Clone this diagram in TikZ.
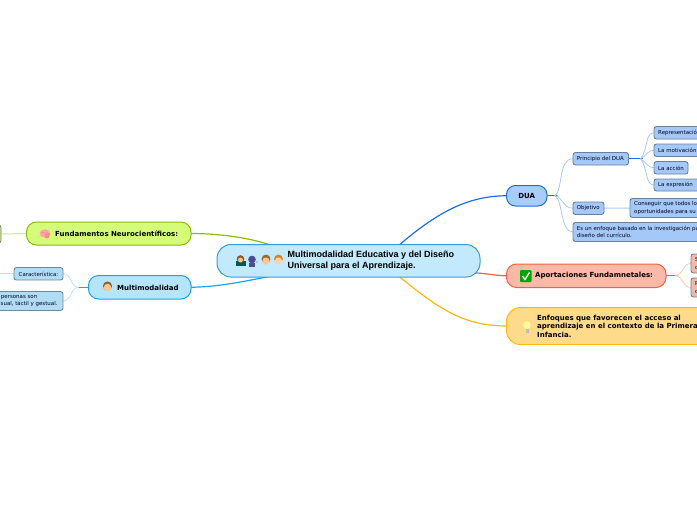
\documentclass[tikz,border=0pt]{standalone}
\usepackage{fontspec}
\setmainfont{DejaVu Sans}
\newfontfamily\titlefont{Liberation Sans}
\usetikzlibrary{backgrounds,calc}
\definecolor{cfill}{HTML}{C2E9FC}\definecolor{cline}{HTML}{3A9AD9}
\definecolor{dfill}{HTML}{A8CCFB}\definecolor{dline}{HTML}{1F6FDB}
\definecolor{dsub}{HTML}{A4C8F8}\definecolor{dsubl}{HTML}{6C7F99}\definecolor{dlink}{HTML}{A9C9F5}
\definecolor{afill}{HTML}{FBB9A8}\definecolor{aline}{HTML}{F0633D}\definecolor{asub}{HTML}{F4B8A8}\definecolor{asubl}{HTML}{8A7A74}\definecolor{alink}{HTML}{F9C4B6}
\definecolor{efill}{HTML}{FEDB8B}\definecolor{eline}{HTML}{FDB913}
\definecolor{ffill}{HTML}{D4FC79}\definecolor{fline}{HTML}{8BBB10}\definecolor{fsub}{HTML}{C9E29A}\definecolor{fsubl}{HTML}{7F8F6A}\definecolor{flink}{HTML}{CFE6A0}
\definecolor{mfill}{HTML}{B5E5FC}\definecolor{mline}{HTML}{1BA3E8}\definecolor{msub}{HTML}{B0DDF5}\definecolor{msubl}{HTML}{6E8A99}\definecolor{mlink}{HTML}{B5E3F9}
\tikzset{
  mapbox/.style={draw,rectangle,inner sep=0pt,line width=1pt,outer sep=0pt},
  subbox/.style={mapbox,rounded corners=2.5pt,line width=.9pt},
  mainlbl/.style={font=\fontsize{7}{8.4}\selectfont\bfseries,anchor=west,inner sep=0pt,align=left,text=black},
  sublbl/.style={font=\fontsize{5.45}{7.4}\selectfont,anchor=west,inner sep=0pt,align=left,text=black!90!blue},
  toplink/.style={line width=1.2pt,line cap=round},
  sublink/.style={line width=.8pt,line cap=round},
}
\newcommand{\boxat}[7]{% name, x1,y1,x2,y2, radius, style
  \node[#7,rounded corners=#6pt,minimum width=#4pt-#2pt,minimum height=#5pt-#3pt] (#1) at ({(#2+#4)/2},{(#3+#5)/2}) {};}
\begin{document}
\begin{tikzpicture}[x=1pt,y=-1pt]
\useasboundingbox (0,0) rectangle (697,520);
\clip (0,0) rectangle (697,520);
% nodes
\boxat{central}{217}{244.5}{480}{277}{14}{mapbox,fill=cfill,draw=cline}
\boxat{dua}{506.5}{185.5}{547}{206}{9}{mapbox,fill=dfill,draw=dline}
\boxat{princ}{573}{152.5}{628.5}{165}{2.5}{subbox,fill=dsub,draw=dsubl}
\boxat{repr}{654}{126.5}{720}{139}{2.5}{subbox,fill=dsub,draw=dsubl}
\boxat{moti}{654}{144}{720}{156.5}{2.5}{subbox,fill=dsub,draw=dsubl}
\boxat{acci}{654}{161.5}{688}{174}{2.5}{subbox,fill=dsub,draw=dsubl}
\boxat{expr}{654}{179}{720}{191}{2.5}{subbox,fill=dsub,draw=dsubl}
\boxat{obje}{573}{202}{604}{214.5}{2.5}{subbox,fill=dsub,draw=dsubl}
\boxat{cons}{630}{198.5}{760}{217.5}{2.5}{subbox,fill=dsub,draw=dsubl}
\boxat{enfo}{573}{222.5}{760}{241.5}{2.5}{subbox,fill=dsub,draw=dsubl}
\boxat{apor}{506.5}{264}{666}{287.5}{10}{mapbox,fill=afill,draw=aline}
\boxat{apa}{691}{254}{760}{273}{2.5}{subbox,fill=asub,draw=asubl}
\boxat{apb}{691}{278}{760}{297}{2.5}{subbox,fill=asub,draw=asubl}
\boxat{enfq}{506.5}{307.5}{760}{344.5}{14}{mapbox,fill=efill,draw=eline}
\boxat{fund}{26.5}{222}{191}{245}{10}{mapbox,fill=ffill,draw=fline}
\boxat{fsub}{-40}{225}{1}{243}{2.5}{subbox,fill=fsub,draw=fsubl}
\boxat{mult}{88.5}{275.5}{191}{299}{10}{mapbox,fill=mfill,draw=mline}
\boxat{cara}{14}{267.5}{63}{280}{2.5}{subbox,fill=msub,draw=msubl}
\boxat{pers}{-40}{291.5}{63}{310.5}{2.5}{subbox,fill=msub,draw=msubl}
\coordinate (caraout) at (-5,273.5);
% labels
\node[mainlbl,font=\fontsize{9}{11.3}\selectfont\titlefont\bfseries] (tcentral) at (287.5,260.5) {Multimodalidad Educativa y del Diseño\\Universal para el Aprendizaje.};
\node[mainlbl,anchor=center] (tdua) at (526.7,195.7) {DUA};
\node[sublbl] (tprinc) at (576.7,158.9) {Principio del DUA};
\node[sublbl] (trepr) at (658,132.9) {Representación};
\node[sublbl] (tmoti) at (658,150.4) {La motivación};
\node[sublbl] (tacci) at (658,168) {La acción};
\node[sublbl] (texpr) at (658,185.2) {La expresión};
\node[sublbl] (tobje) at (576.7,208.4) {Objetivo};
\node[sublbl] (tcons) at (634,208) {Conseguir que todos los\\oportunidades para su};
\node[sublbl] (tenfo) at (576.7,232) {Es un enfoque basado en la investigación para el\\diseño del currículo.};
\node[mainlbl] (tapor) at (535,275.7) {Aportaciones Fundamnetales:};
\node[sublbl] (tapa) at (695,263.5) {Se\\de};
\node[sublbl] (tapb) at (695,287.5) {Pl\\de};
\node[mainlbl] (tenfq) at (537,326) {Enfoques que favorecen el acceso al\\aprendizaje en el contexto de la Primera\\Infancia.};
\node[mainlbl] (tfund) at (55,233.7) {Fundamentos Neurocientíficos:};
\node[mainlbl] (tmult) at (117,287.6) {Multimodalidad};
\node[sublbl] (tcara) at (18.5,274) {Característica:};
\node[sublbl,anchor=east] (tpers) at (57.7,301.2) {\hspace*{5pt}personas son\\visual, táctil y gestual.};
% icons
% check
\path[fill=green!65!black,rounded corners=1pt] (520,270) rectangle (531.5,282);
\draw[white,line width=1.3pt] (522.5,276) -- (525,279.5) -- (529.5,272.5);
% bulb
\fill[yellow!40!white] (527,325) circle (3.8);
\fill[black!25] (525.5,329) rectangle (528.5,332.5);
% brain
\fill[red!35!white] (45,233.5) ellipse (5.5 and 4.2);
\fill[red!45!white] (47,236) circle (2.4);
\draw[red!60!white,line width=.3pt] (42,232) .. controls (44,235) and (47,231) .. (49,234);
% boys
\fill[brown!75!black] (107.5,286) circle (4.6);
\fill[orange!45!white] (107.5,287.6) circle (3.8);
\fill[brown!80!black] (266,259) circle (4.4);
\fill[orange!45!white] (266,261) circle (3.6);
\fill[brown!50!orange] (278.5,259) circle (4.4);
\fill[orange!35!white] (278.5,261) circle (3.6);
% teacher and speaker
\fill[teal!70!black] (235.5,261) rectangle (246,266);
\fill[brown!70!black] (240.5,259) circle (3.8);
\fill[orange!45!white] (240.5,260) circle (2.4);
\fill[black!60!blue!70] (252,259.5) circle (3.8);
\fill[black!60!blue!70] (248.5,266.5) rectangle (255,263);
\fill[black!25] (257,262) circle (1.4);
% connectors
\begin{scope}[on background layer]
\draw[dline,toplink] ([shift={(51,-16)}]central.center) .. controls (440,210) and (470,196) .. (dua.west);
\draw[aline,toplink] ([shift={(-8,12)}]central.east) .. controls (485,273) and (495,275.7) .. (apor.west);
\draw[eline,toplink] ([shift={(51,16)}]central.center) .. controls (440,310) and (465,326) .. (enfq.west);
\draw[fline,toplink] ([shift={(-79,-16)}]central.center) .. controls (250,238) and (220,233.5) .. (fund.east);
\draw[mline,toplink] ([shift={(-80,16)}]central.center) .. controls (250,280) and (220,287) .. (mult.east);
\draw[dline,toplink] (dua.east) -- ++(10,0);
\draw[dline,toplink] (princ.east) -- ++(14,0);
\draw[aline,toplink] (apor.east) -- ++(10,0);
\draw[mline,toplink] (mult.west) -- ++(-11,0);
\draw[dlink,sublink] ($(dua.east)+(8,0)$) .. controls (563,190) and (558,158.7) .. (princ.west);
\draw[dlink,sublink] ($(dua.east)+(8,0)$) .. controls (563,197) and (562,208) .. (obje.west);
\draw[dlink,sublink] ($(dua.east)+(8,0)$) .. controls (563,200) and (560,232) .. (enfo.west);
\draw[dlink,sublink] ($(princ.east)+(12,0)$) .. controls (648,150) and (645,132.7) .. (repr.west);
\draw[dlink,sublink] ($(princ.east)+(12,0)$) .. controls (646,156) and (648,150) .. (moti.west);
\draw[dlink,sublink] ($(princ.east)+(12,0)$) .. controls (646,162) and (648,168) .. (acci.west);
\draw[dlink,sublink] ($(princ.east)+(12,0)$) .. controls (648,168) and (645,185) .. (expr.west);
\draw[dlink,line width=1pt] (obje.east) -- (cons.west);
\draw[alink,sublink] ($(apor.east)+(9,0)$) .. controls (684,275) and (682,263.5) .. (apa.west);
\draw[alink,sublink] ($(apor.east)+(9,0)$) .. controls (684,276) and (682,287.5) .. (apb.west);
\draw[flink,line width=1pt] (fsub.east) -- (fund.west);
\draw[mlink,sublink] ($(mult.west)+(-10,0)$) .. controls (70,287) and (72,273.8) .. (cara.east);
\draw[mlink,sublink] ($(mult.west)+(-10,0)$) .. controls (70,288) and (72,301) .. (pers.east);
\draw[mlink,line width=1pt] (cara.west) -- (caraout);
\end{scope}
\end{tikzpicture}
\end{document}
